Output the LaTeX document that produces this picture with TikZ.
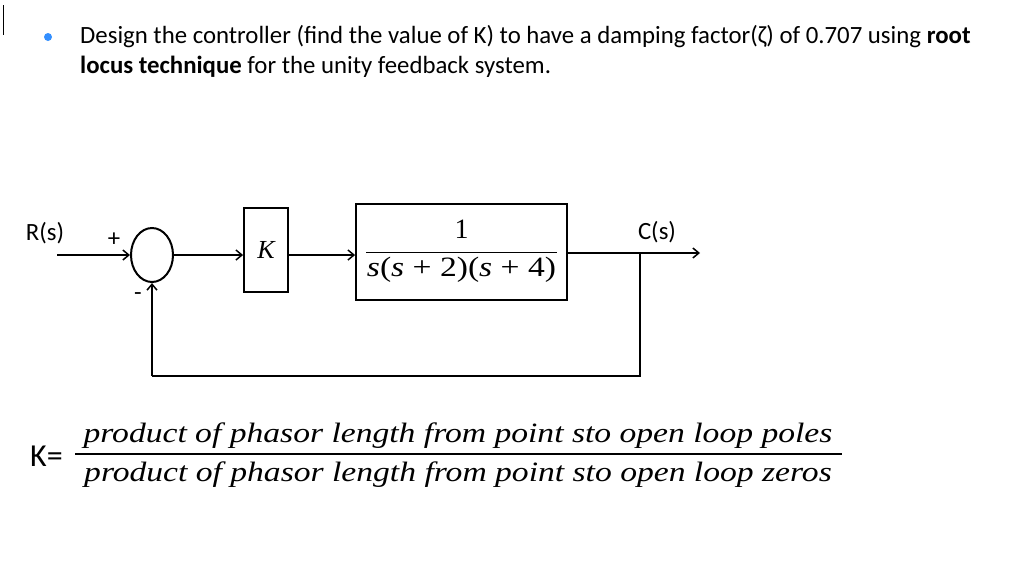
\documentclass[tikz,border=0pt]{standalone}
\usepackage{fontspec}
\usepackage{graphicx}
\setmainfont{Carlito}
\newfontfamily\mfont{Liberation Serif}
\usetikzlibrary{arrows.meta,shapes.geometric}
\begin{document}
\begin{tikzpicture}[x=1pt,y=-1pt,
  blk/.style={draw,line width=1.8pt,inner sep=0pt},
  wire/.style={line width=1.5pt},
  arr/.style={wire,-{Straight Barb[length=6pt,width=10pt]}},
  lbl/.style={font=\fontsize{24.8}{28}\selectfont,inner sep=0pt}]
\useasboundingbox (0,0) rectangle (1024,576);
\draw[line width=0.8pt] (3,5) -- (3,35);
\fill[blue!55!cyan!80!white] (48,37) circle (4);
\node[lbl,anchor=west] (t1) at (80,37) {Design the controller (find the value of K) to have a damping factor(ζ) of 0.707 using \textbf{root}};
\node[lbl,anchor=west] (t2) at (80,67) {\textbf{locus technique} for the unity feedback system.};
% block diagram
\node[lbl] (R) at (45,233) {R(s)};
\coordinate (in) at (57,255);
\node[draw,line width=2pt,ellipse,minimum width=42pt,minimum height=54pt,inner sep=0pt] (sum) at (152,255) {};
\node[lbl] (plus) at (114,240) {+};
\node[lbl] (minus) at (138,297) {-};
\node[blk,minimum width=44pt,minimum height=84pt] (K) at (266,250) {\fontsize{26}{28}\selectfont\mfont\itshape K};
\node[blk,minimum width=211pt,minimum height=96pt] (G) at (461.5,252) {};
\node (num) at (461.5,229) {\fontsize{28}{30}\selectfont\mfont 1};
\node (den) at (461.5,270) {\scalebox{1.2}[1]{\fontsize{28}{30}\selectfont\mfont{\itshape s}({\itshape s} + 2)({\itshape s} + 4)}};
\draw[line width=0.9pt] (366,252) -- (557,252);
\node[lbl] (C) at (657,232) {C(s)};
\coordinate (out) at (700,253);
\coordinate (br) at (640,253);
\coordinate (fb1) at (640,376);
\coordinate (fb2) at (152,376);
\draw[arr] (in) -- (sum.west);
\draw[arr] (sum.east) -- (K.west |- sum.east);
\draw[arr] (K.east |- 0,255) -- (G.west |- 0,255);
\draw[arr] (G.east |- br) -- (out);
\draw[wire] (br) -- (fb1) -- (fb2);
\draw[arr] (fb2) -- (sum.south);
% formula
\node[font=\fontsize{32}{34}\selectfont,inner sep=0pt,anchor=west] (Keq) at (30,456) {K=};
\draw[line width=1.4pt] (75,454) -- (842,454);
\node[inner sep=0pt] (fnum) at (458,436) {\scalebox{1.2}[1]{\fontsize{28}{30}\selectfont\mfont\itshape product of phasor length from point sto open loop poles}};
\node[inner sep=0pt] (fden) at (458,475) {\scalebox{1.2}[1]{\fontsize{28}{30}\selectfont\mfont\itshape product of phasor length from point sto open loop zeros}};
\end{tikzpicture}
\end{document}
